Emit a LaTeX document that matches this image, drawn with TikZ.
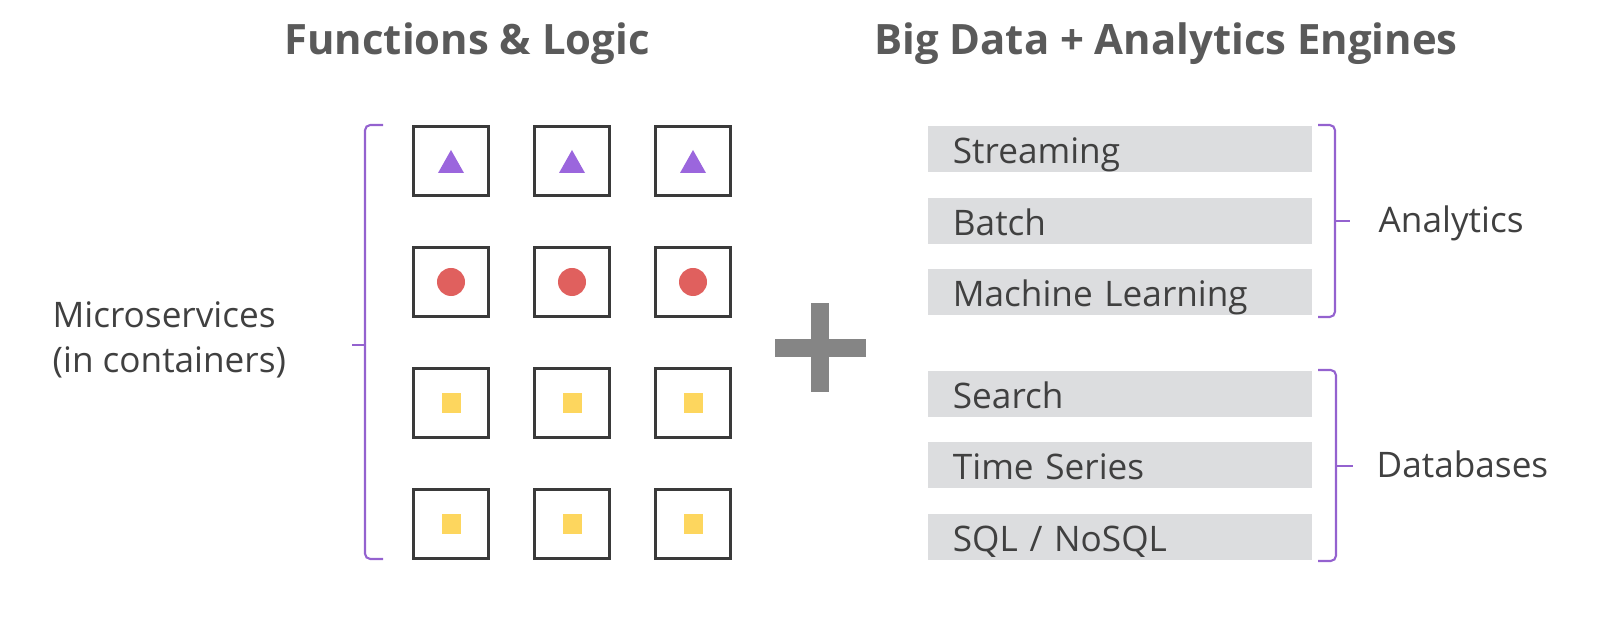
\documentclass[tikz,border=0pt]{standalone}
\usepackage{fontspec}
\setmainfont{Open Sans}
\usepackage{tikz}
\usetikzlibrary{calc}

\definecolor{textgray}{HTML}{404040}
\definecolor{titlegray}{HTML}{5A5A5A}
\definecolor{boxgray}{HTML}{DCDDDF}
\definecolor{plusgray}{HTML}{858585}
\definecolor{edgegray}{HTML}{3A3A3A}
\definecolor{bracketpurple}{HTML}{9462CF}
\definecolor{tripurple}{HTML}{9B66DD}
\definecolor{dotred}{HTML}{E0605E}
\definecolor{sqyellow}{HTML}{FDD65E}

\begin{document}
\begin{tikzpicture}[
    x = 0.01cm,
    y = -0.01cm,
    title/.style = {font = \fontsize{11.9}{14}\selectfont\bfseries,
      text = titlegray, anchor = base, inner sep = 0},
    label/.style = {font = \fontsize{10}{12.8}\selectfont,
      text = textgray, inner sep = 0},
    container/.style = {draw = edgegray,
      line width = 0.85pt,
      minimum width = 0.74cm,
      minimum height = 0.69cm,
      inner sep = 0},
    icon tri/.style = {path picture = {\fill [tripurple]
        ($(path picture bounding box.center) + (0, 0.11cm)$)
        -- ++(0.13cm, -0.23cm) -- ++(-0.26cm, 0) -- cycle;}},
    icon dot/.style = {path picture = {\fill [dotred]
        (path picture bounding box.center) circle [radius = 0.14cm];}},
    icon sq/.style = {path picture = {\fill [sqyellow]
        ($(path picture bounding box.center) + (-0.095cm, -0.095cm)$)
        rectangle ++(0.19cm, 0.19cm);}},
    engine/.style = {fill = boxgray,
      font = \fontsize{10}{12}\selectfont,
      text = textgray,
      align = left,
      text width = 3.34cm,
      inner xsep = 0.25cm,
      inner ysep = 0,
      text height = 0.373cm,
      text depth = 0.093cm},
    bracket/.style = {draw = bracketpurple, line width = 0.6pt,
      rounded corners = 1.5pt},
    ]

    \useasboundingbox (0, 0) rectangle (1600, 619);

    % headings
    \node at (467, 55) [title, name = T_func] {Functions \& Logic};
    \node at (1166, 55) [title, name = T_data] {Big Data + Analytics Engines};

    % containers
    \node at (451, 161) [container, icon tri, name = C_11] {};
    \node at (572, 161) [container, icon tri, name = C_12] {};
    \node at (693, 161) [container, icon tri, name = C_13] {};

    \node at (451, 282) [container, icon dot, name = C_21] {};
    \node at (572, 282) [container, icon dot, name = C_22] {};
    \node at (693, 282) [container, icon dot, name = C_23] {};

    \node at (451, 403) [container, icon sq, name = C_31] {};
    \node at (572, 403) [container, icon sq, name = C_32] {};
    \node at (693, 403) [container, icon sq, name = C_33] {};

    \node at (451, 524) [container, icon sq, name = C_41] {};
    \node at (572, 524) [container, icon sq, name = C_42] {};
    \node at (693, 524) [container, icon sq, name = C_43] {};

    \node at (52, 340) [label, anchor = west, align = left, name = L_micro]
    {Microservices\\(in containers)};

    \draw [bracket] (383, 125) -| (365, 345) |- (383, 559);
    \draw [bracket] (365, 345) -- (352, 345);

    % plus
    \fill [plusgray] (775, 339) rectangle (866, 357);
    \fill [plusgray] (811, 303) rectangle (829, 392);

    % engines
    \node at (1120, 149) [engine, name = A_stream] {Streaming};
    \node at (1120, 221) [engine, name = A_batch] {Batch};
    \node at (1120, 292) [engine, name = A_ml] {Machine Learning};

    \node at (1120, 394) [engine, name = D_search] {Search};
    \node at (1120, 465) [engine, name = D_ts] {Time Series};
    \node at (1120, 537) [engine, name = D_sql] {SQL / NoSQL};

    \draw [bracket] (1318, 125) -| (1335, 221) |- (1318, 317);
    \draw [bracket] (1335, 221) -- (1350, 221);
    \node at (1378, 233) [label, anchor = base west, name = L_analytics]
    {Analytics};

    \draw [bracket] (1318, 370) -| (1336, 466) |- (1318, 561);
    \draw [bracket] (1336, 466) -- (1353, 466);
    \node at (1376, 478) [label, anchor = base west, name = L_db]
    {Databases};
  \end{tikzpicture}
\end{document}
